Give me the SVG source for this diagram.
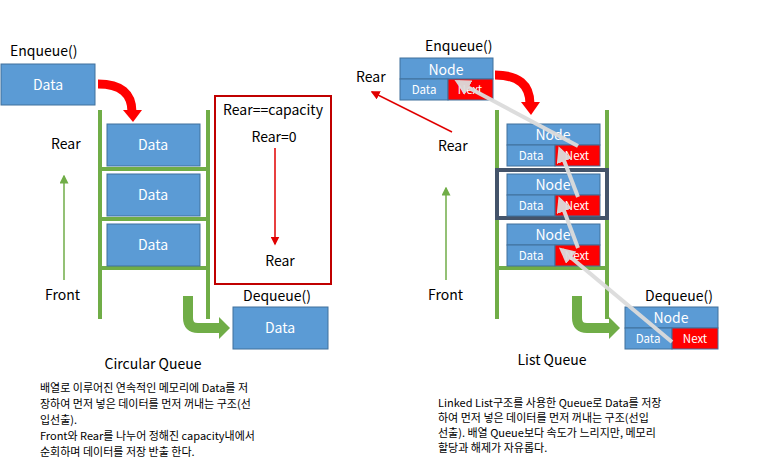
<svg xmlns="http://www.w3.org/2000/svg" width="759" height="466" viewBox="0 0 759 466">
<style>
text{font-family:"Noto Sans CJK KR","Liberation Sans",sans-serif;font-size:14px;fill:#000}
.w{fill:#fff;text-anchor:middle}
.s{font-size:11.5px}
.box{fill:#5b9bd5;stroke:#41719c;stroke-width:1}
.nx{fill:#ff0000;stroke:#41719c;stroke-width:1}
.rail{stroke:#70ad47;stroke-width:4}
.p{font-size:11px}
</style>
<defs>
<marker id="ar" markerWidth="6" markerHeight="6" refX="5" refY="3" orient="auto" markerUnits="strokeWidth"><path d="M0,0L6,3L0,6z" fill="#e00000"/></marker>
<marker id="ag" markerWidth="6" markerHeight="6" refX="5" refY="3" orient="auto" markerUnits="strokeWidth"><path d="M0,0L6,3L0,6z" fill="#70ad47"/></marker>
<marker id="aw" markerWidth="4" markerHeight="4" refX="3" refY="2" orient="auto" markerUnits="strokeWidth"><path d="M0,0L4,2L0,4z" fill="#dcdcdc"/></marker>
</defs>
<rect width="759" height="466" fill="#fff"/>
<g id="left-ladder">
<line class="rail" x1="100" y1="110" x2="100" y2="319"/>
<line class="rail" x1="208" y1="110" x2="208" y2="319"/>
<line class="rail" x1="100" y1="169" x2="208" y2="169"/>
<line class="rail" x1="100" y1="219" x2="208" y2="219"/>
<line class="rail" x1="100" y1="268" x2="208" y2="268"/>
</g>
<g id="enq-data"><text x="10" y="56">Enqueue()</text><rect class="box" x="1" y="64" width="94" height="41"/><text class="w" x="48" y="90">Data</text></g>
<g id="d1"><rect class="box" x="107" y="124" width="93" height="42"/><text class="w" x="153" y="150">Data</text></g>
<g id="d2"><rect class="box" x="107" y="174" width="93" height="42"/><text class="w" x="153" y="200">Data</text></g>
<g id="d3"><rect class="box" x="107" y="224" width="93" height="42"/><text class="w" x="153" y="250">Data</text></g>
<g id="deq-data"><text x="243" y="301">Dequeue()</text><rect class="box" x="233" y="307" width="95" height="42"/><text class="w" x="280" y="333">Data</text></g>
<g id="cap-box"><rect x="215" y="96" width="116" height="188" fill="none" stroke="#c00000" stroke-width="2"/>
<text x="273" y="115" text-anchor="middle">Rear==capacity</text><text x="274" y="142" text-anchor="middle">Rear=0</text><text x="280" y="266" text-anchor="middle">Rear</text></g>
<text x="51" y="149">Rear</text><text x="45" y="300">Front</text>
<text x="153" y="369" text-anchor="middle">Circular Queue</text>

<g id="rladder">
<line class="rail" x1="497" y1="110" x2="497" y2="319"/>
<line class="rail" x1="607" y1="110" x2="607" y2="319"/>
<line class="rail" x1="497" y1="268" x2="607" y2="268"/>
</g>
<g id="nenq"><text x="425" y="51">Enqueue()</text><rect class="box" x="400" y="58" width="93" height="21"/><rect class="box" x="400" y="79" width="48" height="21"/><rect class="nx" x="448" y="79" width="45" height="21"/><text class="w" x="446" y="75">Node</text><text class="w s" x="424" y="94">Data</text><text class="w s" x="470" y="94">Next</text></g>
<g id="n1"><rect class="box" x="507" y="124" width="93" height="21"/><rect class="box" x="507" y="145" width="48" height="21"/><rect class="nx" x="555" y="145" width="45" height="21"/><text class="w" x="553" y="140">Node</text><text class="w s" x="531" y="160">Data</text><text class="w s" x="577" y="160">Next</text></g>
<g id="n2"><rect x="497" y="170" width="110" height="48" fill="none" stroke="#44546a" stroke-width="4"/><rect class="box" x="507" y="174" width="93" height="21"/><rect class="box" x="507" y="195" width="48" height="21"/><rect class="nx" x="555" y="195" width="45" height="21"/><text class="w" x="553" y="190">Node</text><text class="w s" x="531" y="210">Data</text><text class="w s" x="577" y="210">Next</text></g>
<g id="n3"><rect class="box" x="507" y="224" width="93" height="21"/><rect class="box" x="507" y="245" width="48" height="21"/><rect class="nx" x="555" y="245" width="45" height="21"/><text class="w" x="553" y="240">Node</text><text class="w s" x="531" y="260">Data</text><text class="w s" x="577" y="260">Next</text></g>
<g id="ndeq"><text x="645" y="301">Dequeue()</text><rect class="box" x="625" y="307" width="93" height="21"/><rect class="box" x="625" y="328" width="47" height="21"/><rect class="nx" x="672" y="328" width="46" height="21"/><text class="w" x="671" y="323">Node</text><text class="w s" x="648" y="343">Data</text><text class="w s" x="695" y="343">Next</text></g>
<text x="356" y="82">Rear</text><text x="438" y="151">Rear</text><text x="428" y="300">Front</text>
<text x="552" y="365" text-anchor="middle">List Queue</text>

<g id="connectors">
<path d="M98,84 Q132,84 132,112" fill="none" stroke="#ff0000" stroke-width="9"/>
<path d="M123,110 L142,110 L133,122z" fill="#ff0000"/>
<path d="M495,75 Q530,75 530,104" fill="none" stroke="#ff0000" stroke-width="9"/>
<path d="M521,102 L540,102 L531,115z" fill="#ff0000"/>
<path d="M188,296 L188,318 Q188,328 198,328 L220,328" fill="none" stroke="#70ad47" stroke-width="10"/>
<path d="M219,317 L230,328 L219,339z" fill="#70ad47"/>
<path d="M577,296 L577,318 Q577,328 587,328 L610,328" fill="none" stroke="#70ad47" stroke-width="10"/>
<path d="M609,317 L620,328 L609,339z" fill="#70ad47"/>
<line x1="64" y1="280" x2="64" y2="176" stroke="#70ad47" stroke-width="1.5" marker-end="url(#ag)"/>
<line x1="446" y1="280" x2="446" y2="188" stroke="#70ad47" stroke-width="1.5" marker-end="url(#ag)"/>
<line x1="275" y1="148" x2="275" y2="244" stroke="#e00000" stroke-width="1.5" marker-end="url(#ar)"/>
<line x1="452" y1="132" x2="372" y2="92" stroke="#e00000" stroke-width="1.5" marker-end="url(#ar)"/>
<g stroke="#dcdcdc" stroke-width="4" fill="none" opacity="0.95">
<line x1="672" y1="342" x2="562" y2="250" marker-end="url(#aw)"/>
<line x1="578" y1="248" x2="560" y2="200" marker-end="url(#aw)"/>
<line x1="578" y1="197" x2="560" y2="150" marker-end="url(#aw)"/>
<line x1="578" y1="146" x2="458" y2="82" marker-end="url(#aw)"/>
</g>
</g>
<g id="desc" class="p">
<text class="p" x="40" y="392">배열로 이루어진 연속적인 메모리에 Data를 저</text>
<text class="p" x="40" y="408">장하여 먼저 넣은 데이터를 먼저 꺼내는 구조(선</text>
<text class="p" x="40" y="424">입선출).</text>
<text class="p" x="40" y="440"> Front와 Rear를 나누어 정해진 capacity내에서</text>
<text class="p" x="40" y="456">순회하며 데이터를 저장 반출 한다.</text>
<text class="p" x="438" y="407">Linked List구조를 사용한 Queue로 Data를 저장</text>
<text class="p" x="438" y="422">하여 먼저 넣은 데이터를 먼저 꺼내는 구조(선입</text>
<text class="p" x="438" y="437">선출). 배열 Queue보다 속도가 느리지만, 메모리</text>
<text class="p" x="438" y="452">할당과 해제가 자유롭다.</text>
</g>
</svg>
